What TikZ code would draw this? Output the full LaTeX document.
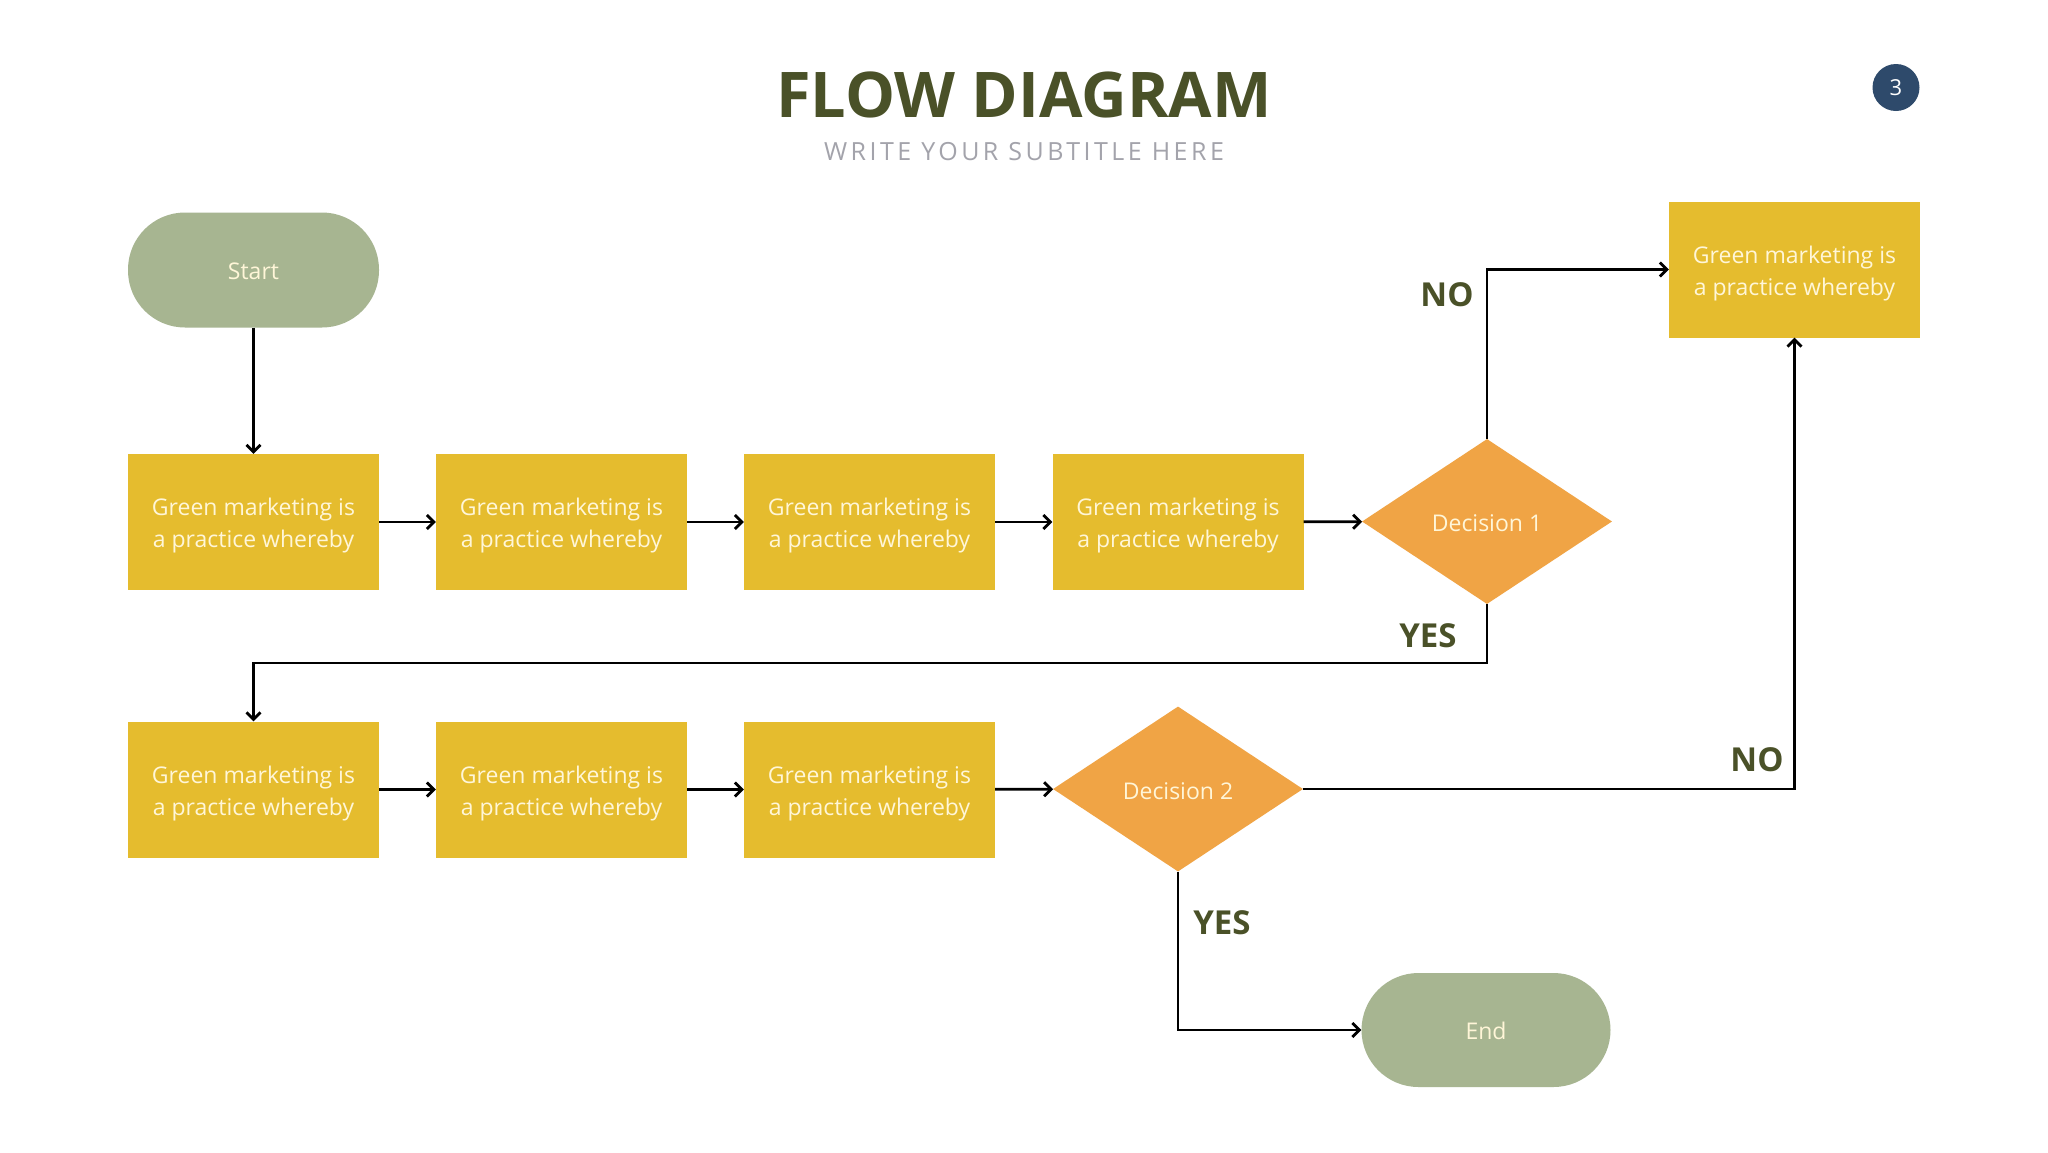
\documentclass[tikz,border=0pt]{standalone}
\usepackage{fontspec}
\setmainfont{Open Sans}
\newfontfamily\subfont[LetterSpace=14]{Open Sans}
\usetikzlibrary{shapes.geometric,arrows.meta}
\definecolor{boxyel}{HTML}{E5BC2E}
\definecolor{decor}{HTML}{F0A445}
\definecolor{termgreen}{HTML}{A7B591}
\definecolor{olive}{HTML}{4A5128}
\definecolor{subgray}{HTML}{A3A3AB}
\definecolor{badgeblue}{HTML}{2E4A6B}
\definecolor{txtlight}{HTML}{FFF6D8}
\newcommand{\gmtext}{\rule{0pt}{25pt}Green marketing is\\a practice whereby}
\tikzset{
  procbox/.style={fill=boxyel, minimum width=251pt, minimum height=136pt, inner sep=0pt,
    text=txtlight, font=\fontsize{23}{32}\selectfont, align=center},
  decbox/.style={diamond, fill=decor, minimum width=250pt, minimum height=165pt, inner sep=0pt,
    text=txtlight, font=\fontsize{23}{32}\selectfont},
  termbox/.style={rectangle, rounded corners=57pt, fill=termgreen, minimum width=251pt,
    minimum height=115pt, inner sep=0pt, text=txtlight, font=\fontsize{23}{32}\selectfont},
  arr/.style={line width=2.8pt, draw=black, -{Straight Barb[length=7pt,width=14pt,line width=2.8pt]}},
  lbl/.style={text=olive, font=\bfseries\fontsize{33}{36}\selectfont, inner sep=0pt}
}
\begin{document}
\begin{tikzpicture}[x=1pt,y=-1pt]
\useasboundingbox[fill=white] (0,0) rectangle (2048,1152);
% title
\node[text=olive, font=\bfseries\fontsize{63}{68}\selectfont, inner sep=0pt] (title) at (1024,94.5) {FLOW DIAGRAM};
\node[text=subgray, font=\subfont\fontsize{25}{28}\selectfont, inner sep=0pt] (subtitle) at (1024,152) {WRITE YOUR SUBTITLE HERE};
\node[circle, fill=badgeblue, minimum size=47pt, inner sep=0pt, text=white, font=\fontsize{22}{24}\selectfont] (badge) at (1896,87.5) {3};
% nodes
\node[termbox] (start) at (253.5,270) {\rule{0pt}{19pt}Start};
\node[procbox] (p1) at (253.5,522) {\gmtext};
\node[procbox] (p2) at (561.5,522) {\gmtext};
\node[procbox] (p3) at (869.5,522) {\gmtext};
\node[procbox] (p4) at (1178,522) {\gmtext};
\node[decbox] (d1) at (1487,521.5) {\rule{0pt}{21pt}Decision 1};
\node[procbox] (tr) at (1794.5,269.5) {\gmtext};
\node[procbox] (q1) at (253.5,789.5) {\gmtext};
\node[procbox] (q2) at (561.5,789.5) {\gmtext};
\node[procbox] (q3) at (869.5,789.5) {\gmtext};
\node[decbox] (d2) at (1178,789) {\rule{0pt}{21pt}Decision 2};
\node[termbox, minimum width=249pt, minimum height=114pt] (end) at (1486,1030) {\rule{0pt}{19pt}End};
\coordinate (c1) at (1487,663);
% connectors
\draw[arr] (start) -- (p1);
\draw[arr] (p1) -- (p2);
\draw[arr] (p2) -- (p3);
\draw[arr] (p3) -- (p4);
\draw[arr] (p4) -- (d1);
\draw[arr] (d1.north) |- (tr.west);
\draw[arr] (d1.south) -- (c1) -| (q1.north);
\draw[arr] (q1) -- (q2);
\draw[arr] (q2) -- (q3);
\draw[arr] (q3) -- (d2);
\draw[arr] (d2.east) -| (tr.south);
\draw[arr] (d2.south) |- (end.west);
% labels
\node[lbl] (no1) at (1447,295) {NO};
\node[lbl] (yes1) at (1428,636) {YES};
\node[lbl] (no2) at (1757,760) {NO};
\node[lbl] (yes2) at (1222,923) {YES};
\end{tikzpicture}
\end{document}
